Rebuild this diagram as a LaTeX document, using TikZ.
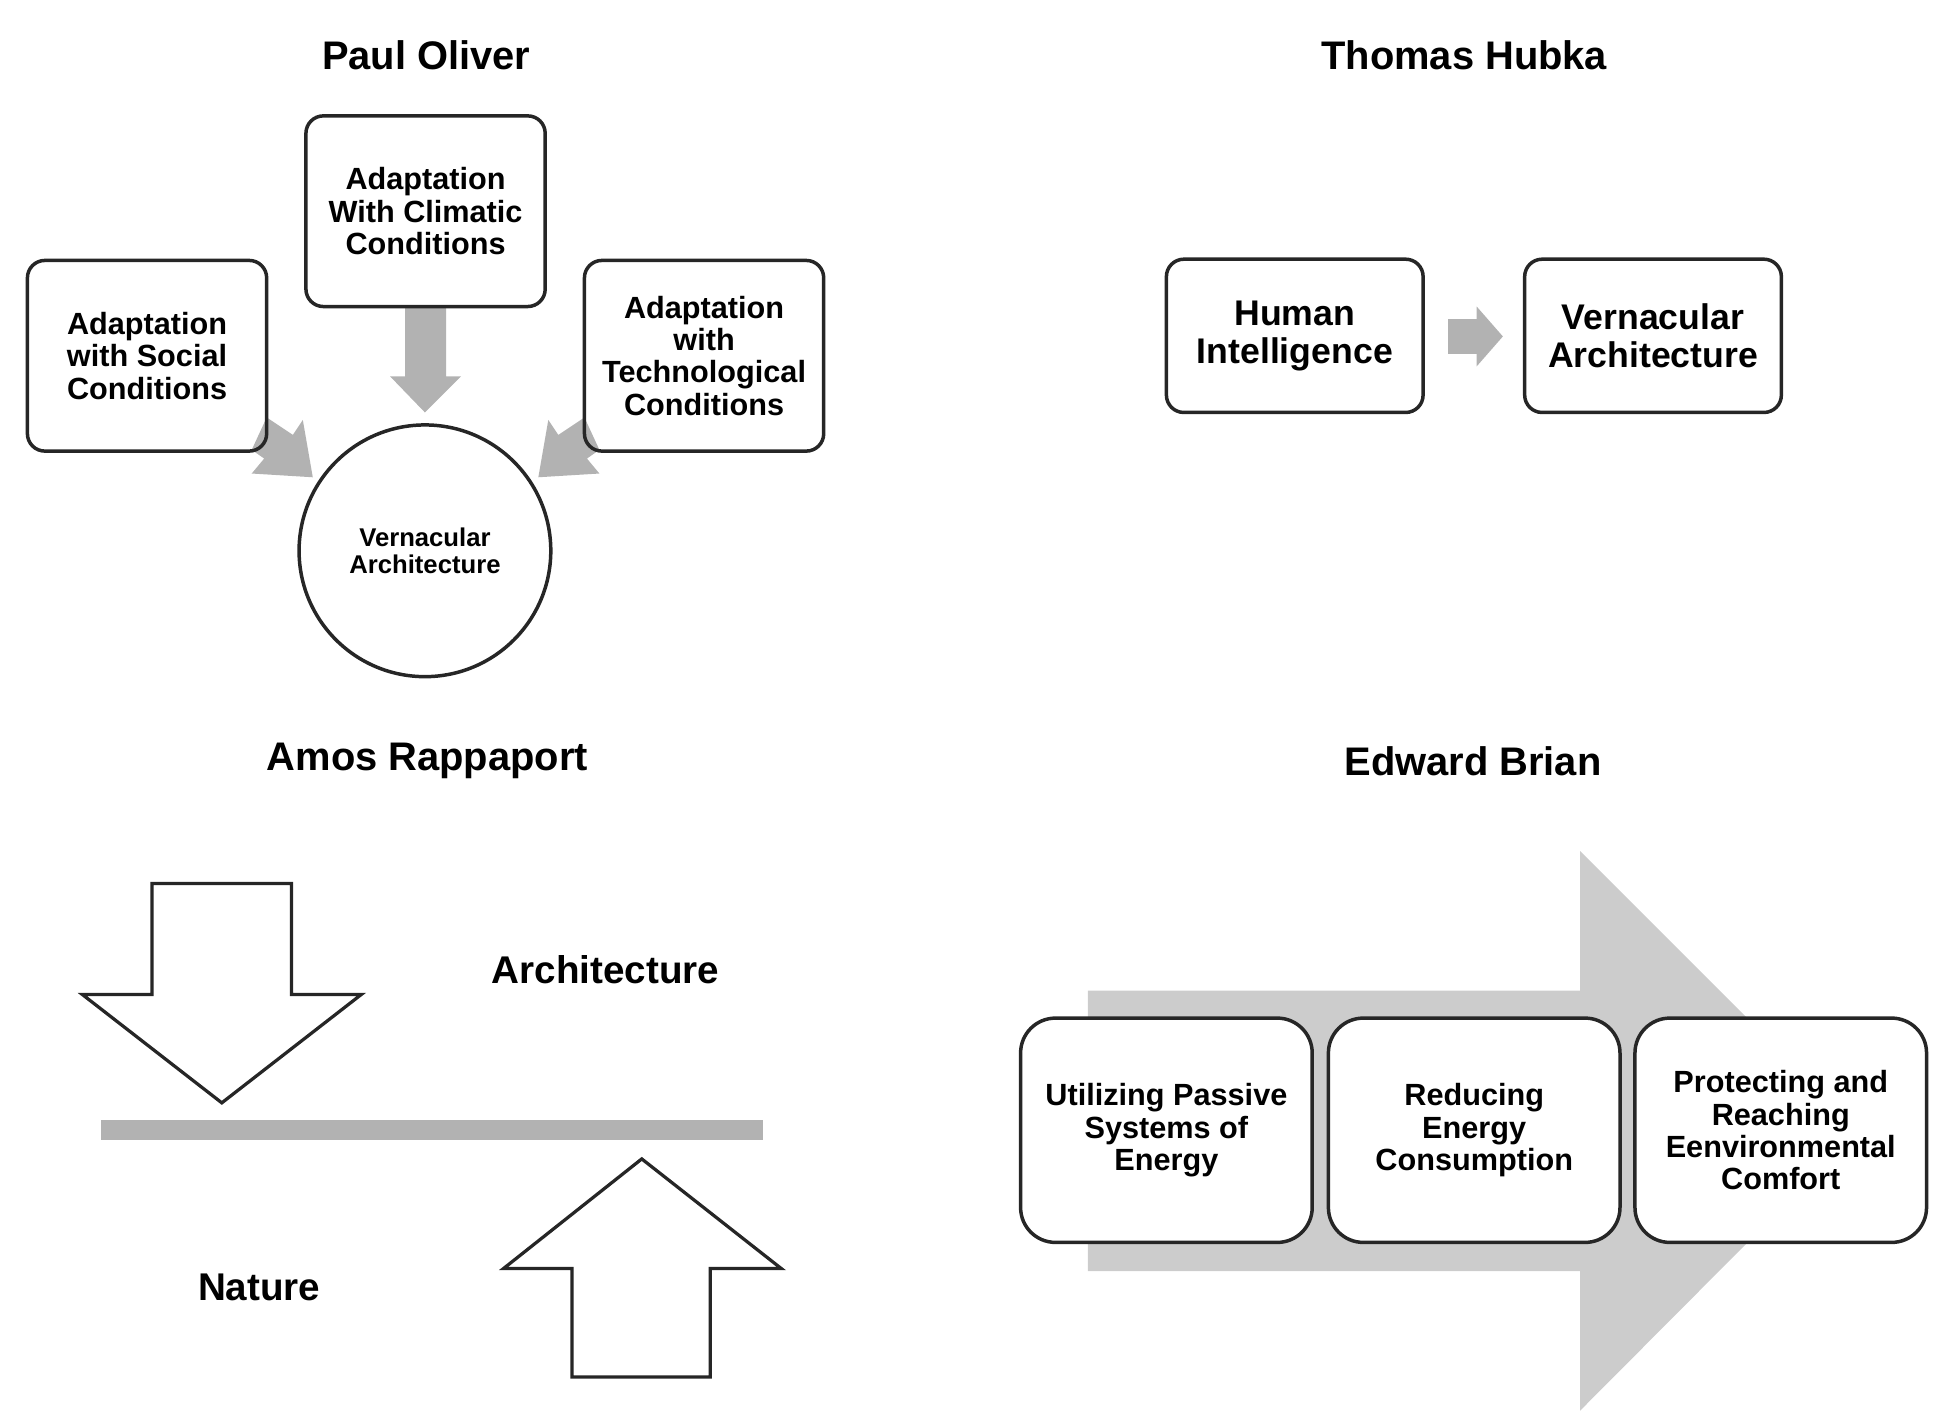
\documentclass[tikz,border=0pt]{standalone}
\usepackage{fontspec}
\setmainfont{Liberation Sans}
\begin{document}
\begin{tikzpicture}[x=0.5pt,y=-0.5pt,
 ttl/.style={font=\bfseries\fontsize{16}{18}\selectfont},
 box/.style={draw=black!85,line width=1.4pt,rounded corners=7pt,align=center,font=\bfseries\fontsize{12.3}{13}\selectfont,inner sep=0pt},
 bbox/.style={box,rounded corners=14pt},
 garrow/.style={fill=black!30,draw=none},
 oarrow/.style={draw=black!85,line width=1.3pt,fill=white,line join=miter},
 lbl/.style={font=\bfseries\fontsize{15.5}{17}\selectfont}]
\useasboundingbox (0,0) rectangle (1560,1143);
% titles
\node[ttl] (t1) at (342,44) {Paul Oliver};
\node[ttl] (t2) at (1175,44) {Thomas Hubka};
\node[ttl] (t3) at (343,611) {Amos Rappaport};
\node[ttl] (t4) at (1182,611) {Edward Brian};
% Paul Oliver
\fill[garrow] (325,246)--(358,246)--(358,302)--(370,302)--(341,331)--(313,302)--(325,302)--cycle;
\fill[garrow] (214,335)--(235,349)--(243,337)--(251,383)--(202,380)--(212,368)--(202,361)--cycle;
\fill[garrow] (469,335)--(448,349)--(440,337)--(432,383)--(481,380)--(471,368)--(481,361)--cycle;
\node[box,minimum width=96pt,minimum height=76.5pt] (a) at (341.5,169.5) {Adaptation\\With Climatic\\Conditions};
\node[box,minimum width=96pt,minimum height=76.5pt] (b) at (118,285.5) {Adaptation\\with Social\\Conditions};
\node[box,minimum width=96pt,minimum height=76.5pt] (c) at (565,285.5) {Adaptation\\with\\Technological\\Conditions};
\node[circle,draw=black!85,line width=1.4pt,minimum size=101pt,align=center,inner sep=0pt,font=\bfseries\fontsize{10.3}{11}\selectfont] (v) at (341,442) {Vernacular\\Architecture};
% Hubka
\node[box,minimum width=103pt,minimum height=61.5pt,font=\bfseries\fontsize{14.3}{15}\selectfont] (h1) at (1039,269.5) {Human\\Intelligence};
\node[box,minimum width=103pt,minimum height=61.5pt,font=\bfseries\fontsize{14.3}{15}\selectfont] (h2) at (1326.5,269.5) {Vernacular\\Architecture};
\fill[garrow] (1162,256)--(1185,256)--(1185,246)--(1206,270)--(1185,294)--(1185,284)--(1162,284)--cycle;
% Rappaport
\draw[oarrow] (122,709)--(234,709)--(234,798)--(290,798)--(178,885)--(66,798)--(122,798)--cycle;
\fill[black!30] (81,899) rectangle (612,915);
\draw[oarrow] (459,1105)--(570,1105)--(570,1018)--(627,1018)--(515,930)--(404,1018)--(459,1018)--cycle;
\node[lbl] (arch) at (486,778) {Architecture};
\node[lbl] (nat) at (208,1033) {Nature};
% Brian
\fill[black!20] (873,795)--(1268,795)--(1268,683)--(1492,907)--(1268,1132)--(1268,1020)--(873,1020)--cycle;
\node[bbox,fill=white,minimum width=117pt,minimum height=90pt] (e1) at (936,907) {Utilizing Passive\\Systems of\\Energy};
\node[bbox,fill=white,minimum width=117pt,minimum height=90pt] (e2) at (1183,907) {Reducing\\Energy\\Consumption};
\node[bbox,fill=white,minimum width=117pt,minimum height=90pt] (e3) at (1429,907) {Protecting and\\Reaching\\Eenvironmental\\Comfort};
\end{tikzpicture}
\end{document}
